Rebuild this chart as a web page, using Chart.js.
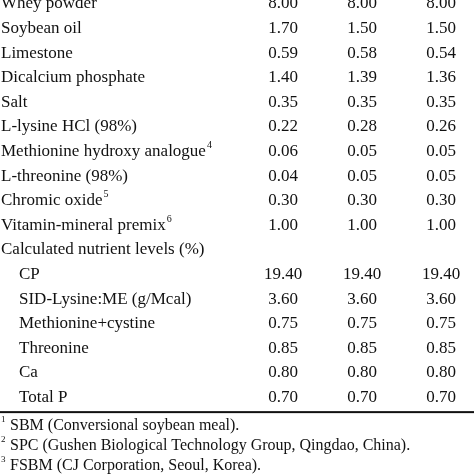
<!DOCTYPE html>
<html>
<head>
<meta charset="utf-8">
<script src="https://cdn.jsdelivr.net/npm/chart.js@4"></script>
<style>
  html, body { margin: 0; padding: 0; background: #fff; }
  #wrap { width: 474px; height: 474px; }
</style>
</head>
<body>
<div id="wrap"><canvas id="tableChart"></canvas></div>
<script>
// table rows (label, footnote mark, indented?)
const rowLabels = ["Whey powder", "Soybean oil", "Limestone", "Dicalcium phosphate", "Salt",
  "L-lysine HCl (98%)", "Methionine hydroxy analogue", "L-threonine (98%)", "Chromic oxide",
  "Vitamin-mineral premix", "Calculated nutrient levels (%)", "CP", "SID-Lysine:ME (g/Mcal)",
  "Methionine+cystine", "Threonine", "Ca", "Total P"];
const rowMarks = ["", "", "", "", "", "", "4", "", "5", "6", "", "", "", "", "", "", ""];
const rowIndent = [0, 0, 0, 0, 0, 0, 0, 0, 0, 0, 0, 1, 1, 1, 1, 1, 1];
const colSBM = ["8.00", "1.70", "0.59", "1.40", "0.35", "0.22", "0.06", "0.04", "0.30", "1.00", null, "19.40", "3.60", "0.75", "0.85", "0.80", "0.70"];
const colSPC = ["8.00", "1.50", "0.58", "1.39", "0.35", "0.28", "0.05", "0.05", "0.30", "1.00", null, "19.40", "3.60", "0.75", "0.85", "0.80", "0.70"];
const colFSBM = ["8.00", "1.50", "0.54", "1.36", "0.35", "0.26", "0.05", "0.05", "0.30", "1.00", null, "19.40", "3.60", "0.75", "0.85", "0.80", "0.70"];
const footMarks = ["1", "2", "3"];
const footnotes = ["SBM (Conversional soybean meal).",
  "SPC (Gushen Biological Technology Group, Qingdao, China).",
  "FSBM (CJ Corporation, Seoul, Korea)."];

const columns = [colSBM, colSPC, colFSBM];
const FONT = '"Liberation Serif", "Times New Roman", serif';

const datasets = columns.map((col, c) => ({
  data: col.map((v, i) => ({ x: c + 1, y: i, t: v })).filter(p => p.t !== null),
  pointRadius: 0
}));

const tablePlugin = {
  id: 'tableText',
  afterDraw(chart) {
    const ctx = chart.ctx;
    const xs = chart.scales.x, ys = chart.scales.y;
    const left = xs.getPixelForValue(xs.min) + 1;
    ctx.save();
    ctx.fillStyle = '#111';
    ctx.textBaseline = 'middle';
    rowLabels.forEach((lab, i) => {
      const y = ys.getPixelForValue(i);
      const x = left + (rowIndent[i] ? 18 : 0);
      ctx.font = '17px ' + FONT;
      ctx.textAlign = 'left';
      ctx.fillText(lab, x, y);
      if (rowMarks[i]) {
        const w = ctx.measureText(lab).width;
        ctx.font = '10px ' + FONT;
        ctx.fillText(rowMarks[i], x + w + 1, y - 6);
      }
    });
    ctx.font = '17px ' + FONT;
    ctx.textAlign = 'center';
    chart.data.datasets.forEach(ds => ds.data.forEach(p => {
      ctx.fillText(p.t, xs.getPixelForValue(p.x), ys.getPixelForValue(p.y));
    }));
    // rule under table
    const ry = ys.getPixelForValue(rowLabels.length - 0.45);
    ctx.fillRect(0, ry, chart.width, 2);
    footnotes.forEach((f, k) => {
      const y = ys.getPixelForValue(rowLabels.length + 0.15 + k * 0.81);
      ctx.textAlign = 'left';
      ctx.font = '9px ' + FONT;
      ctx.fillText(footMarks[k], left, y - 6);
      ctx.font = '16px ' + FONT;
      ctx.fillText(f, left + 9, y);
    });
    ctx.restore();
  }
};

new Chart(document.getElementById('tableChart'), {
  type: 'scatter',
  data: { datasets },
  options: {
    responsive: true,
    maintainAspectRatio: false,
    animation: false,
    layout: { padding: 0 },
    plugins: { legend: { display: false }, tooltip: { enabled: false } },
    scales: {
      x: { type: 'linear', display: false, min: 1 - 283 / 79, max: 1 - 283 / 79 + 474 / 79 },
      y: { type: 'linear', display: false, reverse: true, min: -4 / 24.6, max: -4 / 24.6 + 474 / 24.6 }
    }
  },
  plugins: [tablePlugin]
});
</script>
</body>
</html>
